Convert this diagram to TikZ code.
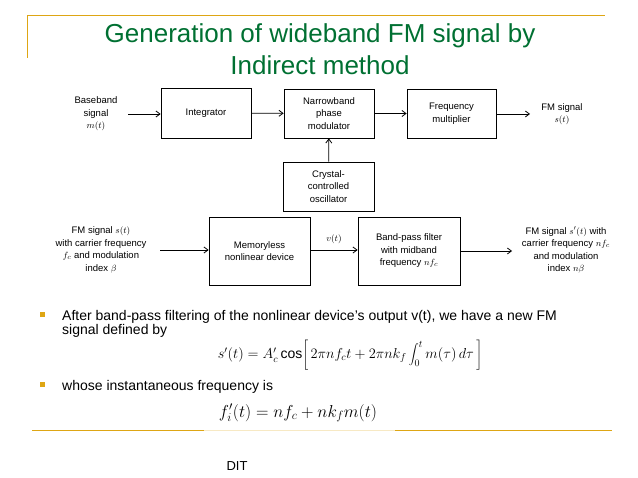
\documentclass[tikz,border=0pt]{standalone}
\usepackage{fontspec}
\setmainfont{Liberation Sans}
\usetikzlibrary{arrows.meta}
\definecolor{ttl}{RGB}{0,112,50}
\definecolor{gold}{RGB}{222,166,20}
\begin{document}
\begin{tikzpicture}[x=1pt,y=-1pt,
  blk/.style={draw,thick,minimum width=#1,align=center,font=\fontsize{9.5}{12.5}\selectfont,inner sep=1pt},
  lbl/.style={align=center,font=\fontsize{9.5}{12.5}\selectfont},
  arr/.style={thick,-{Straight Barb[length=4pt,width=6pt]}},
  btxt/.style={anchor=west,font=\fontsize{14}{13}\selectfont,inner sep=0pt},
  bul/.style={fill=gold,minimum size=5pt,inner sep=0pt}]
\useasboundingbox (0,0) rectangle (638,478);
\draw[gold,thick] (27,58) -- (27,15) -- (605,15);
\node[ttl,font=\fontsize{26}{32}\selectfont,align=center] (title) at (320,49) {Generation of wideband FM signal by\\Indirect method};
% top row
\node[blk=90pt,minimum height=50pt] (int) at (206,113) {Integrator};
\node[blk=90pt,minimum height=49pt] (nbpm) at (329,113.5) {Narrowband\\phase\\modulator};
\node[blk=89pt,minimum height=49pt] (fm) at (451.5,113.5) {Frequency\\multiplier};
\node[blk=91pt,minimum height=49pt] (xo) at (328.5,186.5) {Crystal-\\controlled\\oscillator};
\node[lbl] (bb) at (96,114) {Baseband\\signal\\$m(t)$};
\node[lbl] (fmo) at (562,114) {FM signal\\$s(t)$};
\coordinate (bbe) at (128,114);
\coordinate (fme) at (530,114);
\draw[arr] (bbe) -- (int.west |- bbe);
\draw[arr] (int) -- (nbpm);
\draw[arr] (nbpm) -- (fm);
\draw[arr] (fm.east |- fme) -- (fme);
\draw[arr] (xo) -- (nbpm);
% bottom row
\node[blk=101pt,minimum height=68pt] (nl) at (259.5,251) {Memoryless\\nonlinear device};
\node[blk=102pt,minimum height=68pt] (bpf) at (409,251) {Band-pass filter\\with midband\\frequency $nf_c$};
\node[lbl] (in2) at (101,250) {FM signal $s(t)$\\with carrier frequency\\$f_c$ and modulation\\index $\beta$};
\node[lbl] (out2) at (566,250) {FM signal $s'(t)$ with\\carrier frequency $nf_c$\\and modulation\\index $n\beta$};
\coordinate (ine) at (160,250);
\coordinate (oute) at (512,251);
\draw[arr] (ine) -- (nl.west |- ine);
\draw[arr] (nl.east |- ine) -- node[above=3pt,lbl] (vt) {$v(t)$} (bpf.west |- ine);
\draw[arr] (bpf.east |- oute) -- (oute);
% bullets
\node[bul] (b1) at (42,315) {};
\node[btxt,align=left] (t1) at (62,323.5) {After band-pass filtering of the nonlinear device's output v(t), we have a new FM\\signal defined by};
\node (eq1) at (350,355) {\fontsize{14}{14}\selectfont$s'(t) = A_c'\cos\!\left[\,2\pi n f_c t + 2\pi n k_f\displaystyle\int_0^t m(\tau)\,d\tau\,\right]$};
\node[bul] (b2) at (42,385) {};
\node[btxt] (t2) at (62,387) {whose instantaneous frequency is};
\node (eq2) at (298,413) {\fontsize{17}{17}\selectfont$f_i'(t) = nf_c + nk_f m(t)$};
\draw[gold,thick] (32,430) -- (204,430);
\draw[gold!25,thick] (204,430) -- (395,430);
\draw[gold,thick] (395,430) -- (612,430);
\node[font=\fontsize{13}{13}\selectfont] (dit) at (237,466) {DIT};
\end{tikzpicture}
\end{document}
